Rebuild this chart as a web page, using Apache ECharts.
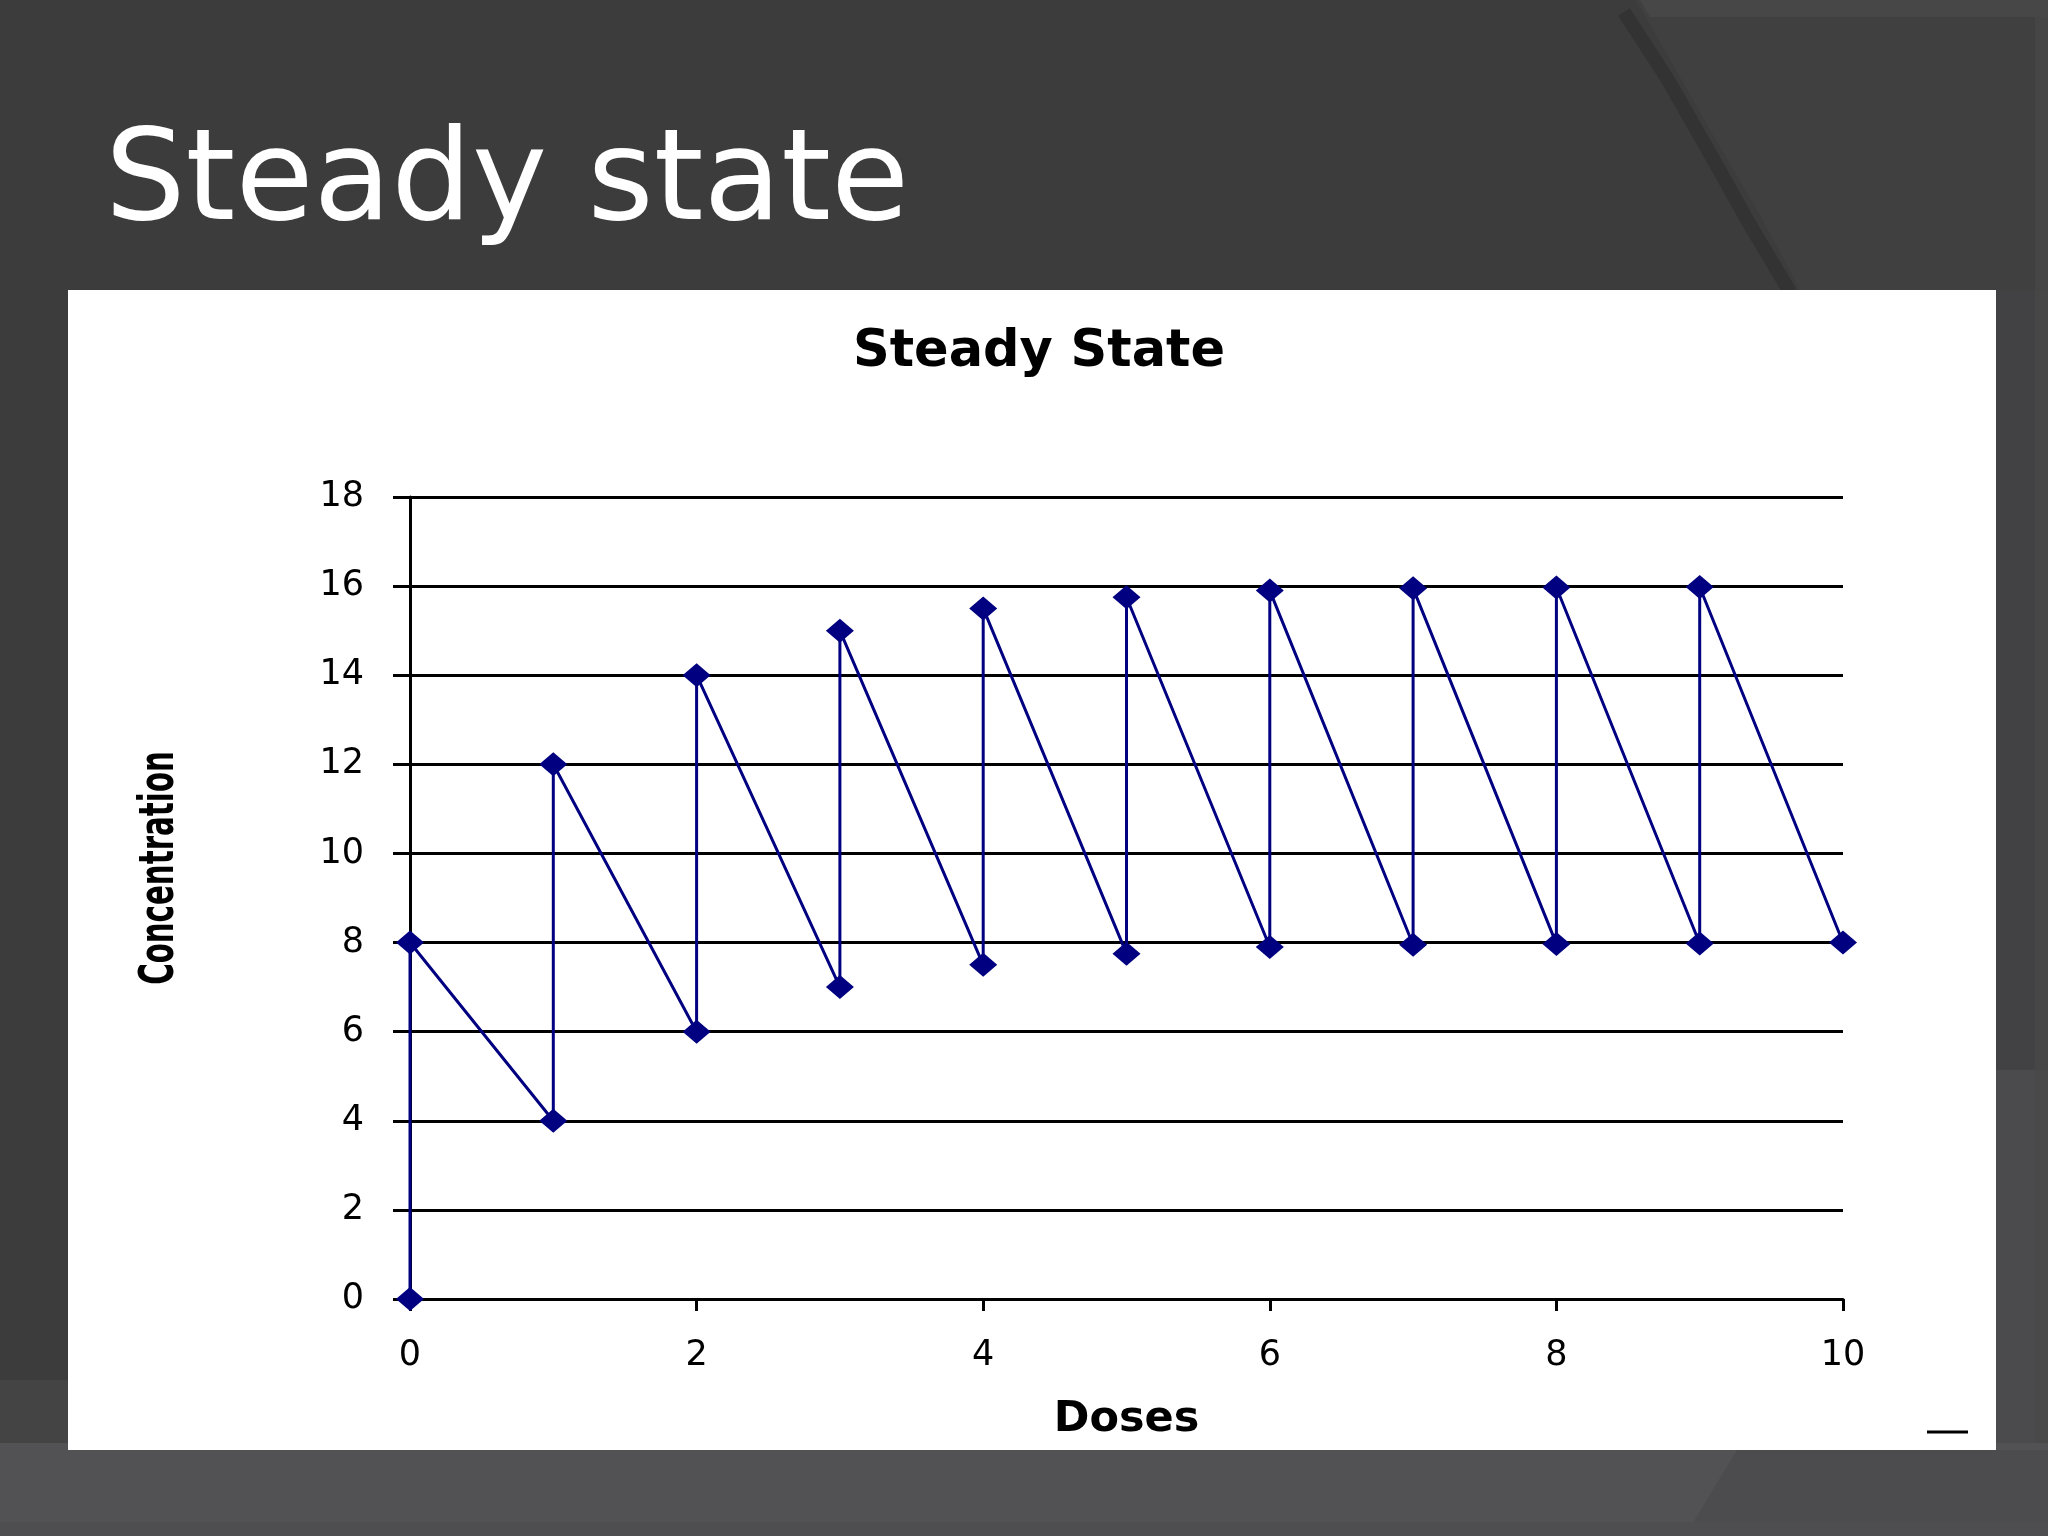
<!DOCTYPE html>
<html><head><meta charset="utf-8">
<script src="https://cdn.jsdelivr.net/npm/echarts@6/dist/echarts.min.js"></script>
<style>html,body{margin:0;padding:0;background:#3c3c3c}#c{width:2048px;height:1536px}</style>
</head><body><div id="c"></div>
<script>
// Data
const doses = [0, 0, 1, 1, 2, 2, 3, 3, 4, 4, 5, 5, 6, 6, 7, 7, 8, 8, 9, 9, 10];
const concentration = [0, 8, 4, 12, 6, 14, 7, 15, 7.5, 15.5, 7.75, 15.75, 7.9, 15.9, 7.95, 15.95, 7.97, 15.97, 7.98, 15.98, 8];
const xTickValues = [0, 2, 4, 6, 8, 10];
const yTickValues = [0, 2, 4, 6, 8, 10, 12, 14, 16, 18];
const slideTitle = 'Steady state';
const chartTitle = 'Steady State';
const xName = 'Doses';
const yName = 'Concentration';

const seriesData = doses.map((d, i) => [d, concentration[i]]);

const chart = echarts.init(document.getElementById('c'), null, {renderer: 'canvas'});
const F = 'DejaVu Sans';

chart.setOption({
  animation: false,
  backgroundColor: '#3c3c3c',
  title: {
    text: chartTitle,
    left: 1034, top: 322, textAlign: 'center',
    textStyle: {fontFamily: F, fontSize: 51, fontWeight: 'bold', color: '#000'}
  },
  grid: {left: 410, right: 205, top: 497, bottom: 237},
  xAxis: {
    type: 'value',
    min: xTickValues[0], max: xTickValues[xTickValues.length - 1],
    interval: xTickValues[1] - xTickValues[0],
    name: xName, nameLocation: 'middle', nameGap: 99,
    nameTextStyle: {fontFamily: F, fontSize: 43, fontWeight: 'bold', color: '#000'},
    axisLine: {show: true, onZero: false, lineStyle: {color: '#000', width: 3}},
    axisTick: {show: true, inside: false, length: 12, lineStyle: {color: '#000', width: 3}},
    axisLabel: {margin: 39, fontFamily: F, fontSize: 35, color: '#000'},
    splitLine: {show: false}
  },
  yAxis: {
    type: 'value',
    min: yTickValues[0], max: yTickValues[yTickValues.length - 1],
    interval: yTickValues[1] - yTickValues[0],
    axisLine: {show: true, onZero: false, lineStyle: {color: '#000', width: 3}},
    axisTick: {show: true, inside: false, length: 17, lineStyle: {color: '#000', width: 3}},
    axisLabel: {margin: 46, fontFamily: F, fontSize: 35, color: '#000'},
    splitLine: {show: true, lineStyle: {color: '#000', width: 3}}
  },
  series: [{
    type: 'line',
    data: seriesData,
    symbol: 'diamond',
    symbolSize: [28, 24],
    showAllSymbol: true,
    lineStyle: {color: '#000080', width: 3},
    itemStyle: {color: '#000080'},
    z: 5
  }],
  graphic: [
    // slide background decoration
    {type: 'polygon', z: -20, shape: {points: [[1636,0],[2048,0],[2048,290],[1800,290],[1760,215],[1710,130]]}, style: {fill: '#404040'}},
    {type: 'polygon', z: -19, shape: {points: [[1640,0],[2048,0],[2048,17],[1650,17]]}, style: {fill: '#474747'}},
    {type: 'polyline', z: -18, shape: {points: [[1624,12],[1668,80],[1708,150],[1750,225],[1790,292]]}, style: {stroke: '#333333', lineWidth: 14, fill: null}},
    {type: 'rect', z: -20, shape: {x: 1996, y: 290, width: 52, height: 780}, style: {fill: '#424144'}},
    {type: 'rect', z: -20, shape: {x: 1996, y: 1070, width: 52, height: 380}, style: {fill: '#4b4a4d'}},
    {type: 'rect', z: -20, shape: {x: 2035, y: 0, width: 13, height: 1536}, style: {fill: '#4a4a4a', opacity: 0.6}},
    {type: 'rect', z: -20, shape: {x: 0, y: 1380, width: 68, height: 70}, style: {fill: '#444444'}},
    {type: 'rect', z: -20, shape: {x: 0, y: 1443, width: 2048, height: 93}, style: {fill: '#525154'}},
    {type: 'polygon', z: -19, shape: {points: [[1737,1450],[2048,1450],[2048,1536],[1685,1536]]}, style: {fill: '#4c4b4e'}},
    {type: 'rect', z: -19, shape: {x: 0, y: 1522, width: 2048, height: 14}, style: {fill: '#4e4d50'}},
    // white chart panel
    {type: 'rect', z: -10, shape: {x: 68, y: 290, width: 1928, height: 1160}, style: {fill: '#ffffff'}},
    // slide title
    {type: 'text', z: 50, x: 105, y: 186, style: {text: slideTitle, font: '127px "DejaVu Sans"', fill: '#ffffff', textAlign: 'left', textVerticalAlign: 'middle'}},
    // y axis name (condensed bold)
    {type: 'text', z: 50, x: 161, y: 868, rotation: Math.PI / 2, scaleX: 0.61,
      style: {text: yName, font: 'bold 48px "DejaVu Sans"', fill: '#000', textAlign: 'center', textVerticalAlign: 'middle'}},
    // small dash at bottom right
    {type: 'line', z: 50, shape: {x1: 1927, y1: 1432, x2: 1968, y2: 1432}, style: {stroke: '#000', lineWidth: 3}}
  ]
});
</script></body></html>
